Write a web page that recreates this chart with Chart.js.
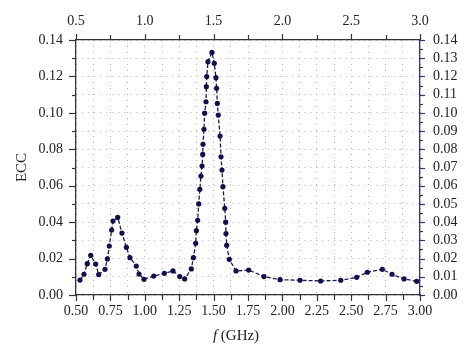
<!DOCTYPE html>
<html>
<head>
<meta charset="utf-8">
<script src="https://cdn.jsdelivr.net/npm/chart.js@4/dist/chart.umd.min.js"></script>
<style>
  html, body { margin: 0; padding: 0; background: #fff; }
  canvas { display: block; }
</style>
</head>
<body>
<canvas id="ecc" width="474" height="361"></canvas>
<script>
// frequency (GHz) and ECC
const FREQ = [0.529,0.558,0.582,0.607,0.643,0.665,0.711,0.728,0.742,0.759,0.769,0.803,0.834,0.866,0.892,0.938,0.958,0.994,
  1.065,1.142,1.205,1.254,1.290,1.338,1.353,1.370,1.375,1.384,1.392,1.400,1.408,1.416,1.421,1.423,1.430,1.435,1.445,1.447,1.450,1.459,
  1.488,1.505,1.517,1.522,1.527,1.534,1.547,1.554,1.561,1.568,1.581,1.588,1.590,1.595,1.614,1.663,1.755,1.866,1.983,
  2.128,2.278,2.424,2.540,2.617,2.726,2.797,2.884,2.976];
const ECC = [0.0082,0.0114,0.0172,0.0218,0.0170,0.0112,0.0141,0.0198,0.0269,0.0357,0.0406,0.0426,0.0340,0.0262,0.0205,0.0159,0.0115,0.0086,
  0.0104,0.0119,0.0132,0.0101,0.0088,0.0143,0.0205,0.0284,0.0353,0.0410,0.0500,0.0580,0.0653,0.0708,0.0772,0.0827,0.0910,0.0998,0.1061,0.1144,0.1199,0.1281,
  0.1332,0.1272,0.1193,0.1135,0.1052,0.0988,0.0873,0.0759,0.0686,0.0595,0.0476,0.0400,0.0337,0.0273,0.0196,0.0132,0.0137,0.0101,0.0084,
  0.0081,0.0077,0.0081,0.0097,0.0125,0.0141,0.0114,0.0088,0.0075];

const X_MIN = 0.5, X_MAX = 3.0;
const Y_MIN = 0, Y_MAX = 0.14;

const SERIF = '"Liberation Serif", "DejaVu Serif", serif';
const NAVY = '#1b1b5c';
const AXIS = '#333';
const RIGHT_AXIS = '#34346f';

const tickFont = { family: SERIF, size: 14 };

// ─── tick marks outside the frame, drawn through the scales ─────
const tickMarks = {
  id: 'tickMarks',
  afterDraw(chart) {
    const { ctx, chartArea: a, scales } = chart;
    ctx.save();
    ctx.lineWidth = 1.2;

    const marks = (scale, step, majorEvery, majLen, minLen, side, color) => {
      ctx.strokeStyle = color;
      const n = Math.round((scale.max - scale.min) / step);
      for (let i = 0; i <= n; i++) {
        const v = scale.min + i * step;
        const p = Math.round(scale.getPixelForValue(v)) + 0.5;
        const len = i % majorEvery === 0 ? majLen : minLen;
        ctx.beginPath();
        if (side === 'left')   { ctx.moveTo(a.left, p);  ctx.lineTo(a.left - len, p); }
        if (side === 'right')  { ctx.moveTo(a.right, p); ctx.lineTo(a.right + len, p); }
        if (side === 'bottom') { ctx.moveTo(p, a.bottom); ctx.lineTo(p, a.bottom + len); }
        if (side === 'top')    { ctx.moveTo(p, a.top);    ctx.lineTo(p, a.top - len); }
        ctx.stroke();
      }
    };
    marks(scales.y, 0.01, 2, 7, 4, 'left', AXIS);
    marks(scales.y2, 0.005, 2, 5, 3, 'right', RIGHT_AXIS);
    marks(scales.x, 0.125, 2, 6, 5, 'bottom', AXIS);
    marks(scales.x2, 0.25, 2, 6, 5, 'top', AXIS);

    // x title: italic f + (GHz)
    ctx.fillStyle = '#222';
    ctx.textBaseline = 'middle';
    const t1 = 'f', t2 = ' (GHz)';
    ctx.font = 'italic 15px ' + SERIF;
    const w1 = ctx.measureText(t1).width;
    ctx.font = '15px ' + SERIF;
    const w2 = ctx.measureText(t2).width;
    const cx = (a.left + a.right) / 2 - 12;
    const x0 = cx - (w1 + w2) / 2;
    ctx.font = 'italic 15px ' + SERIF;
    ctx.fillText(t1, x0, 336);
    ctx.font = '15px ' + SERIF;
    ctx.fillText(t2, x0 + w1, 336);
    ctx.restore();
  }
};

// v4: border.dash dashes the grid lines inside the chart area
const dotGrid = { color: '#b4b4b4', lineWidth: 1, drawTicks: false };

new Chart(document.getElementById('ecc'), {
  type: 'line',
  data: {
    datasets: [{
      label: 'ECC',
      data: FREQ.map((f, i) => ({ x: f, y: ECC[i] })),
      borderColor: NAVY,
      borderWidth: 1.3,
      borderDash: [4, 2],
      backgroundColor: NAVY,
      pointBackgroundColor: '#10104a',
      pointBorderColor: '#10104a',
      pointRadius: 2.6,
      pointBorderWidth: 0,
      tension: 0,
      fill: false
    }]
  },
  options: {
    responsive: false,
    animation: false,
    layout: { padding: 0 },
    plugins: { legend: { display: false }, tooltip: { enabled: false } },
    scales: {
      x: {
        type: 'linear', position: 'bottom', min: X_MIN, max: X_MAX,
        afterFit: s => { s.height = 66; },
        ticks: {
          stepSize: 0.125, padding: 8, color: '#222', font: tickFont, maxRotation: 0, autoSkip: false,
          callback: v => (Math.round(v * 1000) % 250 === 0 ? v.toFixed(2) : '')
        },
        grid: { ...dotGrid },
        border: { display: true, color: AXIS, width: 1.3, dash: [1, 5] }
      },
      x2: {
        type: 'linear', position: 'top', min: X_MIN, max: X_MAX,
        afterFit: s => { s.height = 40; },
        ticks: {
          stepSize: 0.25, padding: 10, color: '#222', font: tickFont, maxRotation: 0, autoSkip: false,
          callback: v => (Math.round(v * 100) % 50 === 0 ? v.toFixed(1) : '')
        },
        grid: { drawOnChartArea: false, drawTicks: false },
        border: { display: true, color: AXIS, width: 1.3 }
      },
      y: {
        type: 'linear', position: 'left', min: Y_MIN, max: Y_MAX,
        afterFit: s => { s.width = 76; },
        ticks: {
          stepSize: 0.01, padding: 13, color: '#222', font: tickFont, autoSkip: false,
          callback: v => (Math.round(v * 100) % 2 === 0 ? v.toFixed(2) : '')
        },
        title: { display: true, text: 'ECC', color: '#222', font: { family: SERIF, size: 15 }, padding: { top: 13, bottom: 0 } },
        grid: { ...dotGrid },
        border: { display: true, color: AXIS, width: 1.3, dash: [1, 5] }
      },
      y2: {
        type: 'linear', position: 'right', min: Y_MIN, max: Y_MAX,
        afterFit: s => { s.width = 54; },
        ticks: {
          stepSize: 0.01, padding: 13, color: '#222', font: tickFont, autoSkip: false,
          callback: v => v.toFixed(2)
        },
        grid: { drawOnChartArea: false, drawTicks: false },
        border: { display: true, color: RIGHT_AXIS, width: 1.3 }
      }
    }
  },
  plugins: [tickMarks]
});
</script>
</body>
</html>
